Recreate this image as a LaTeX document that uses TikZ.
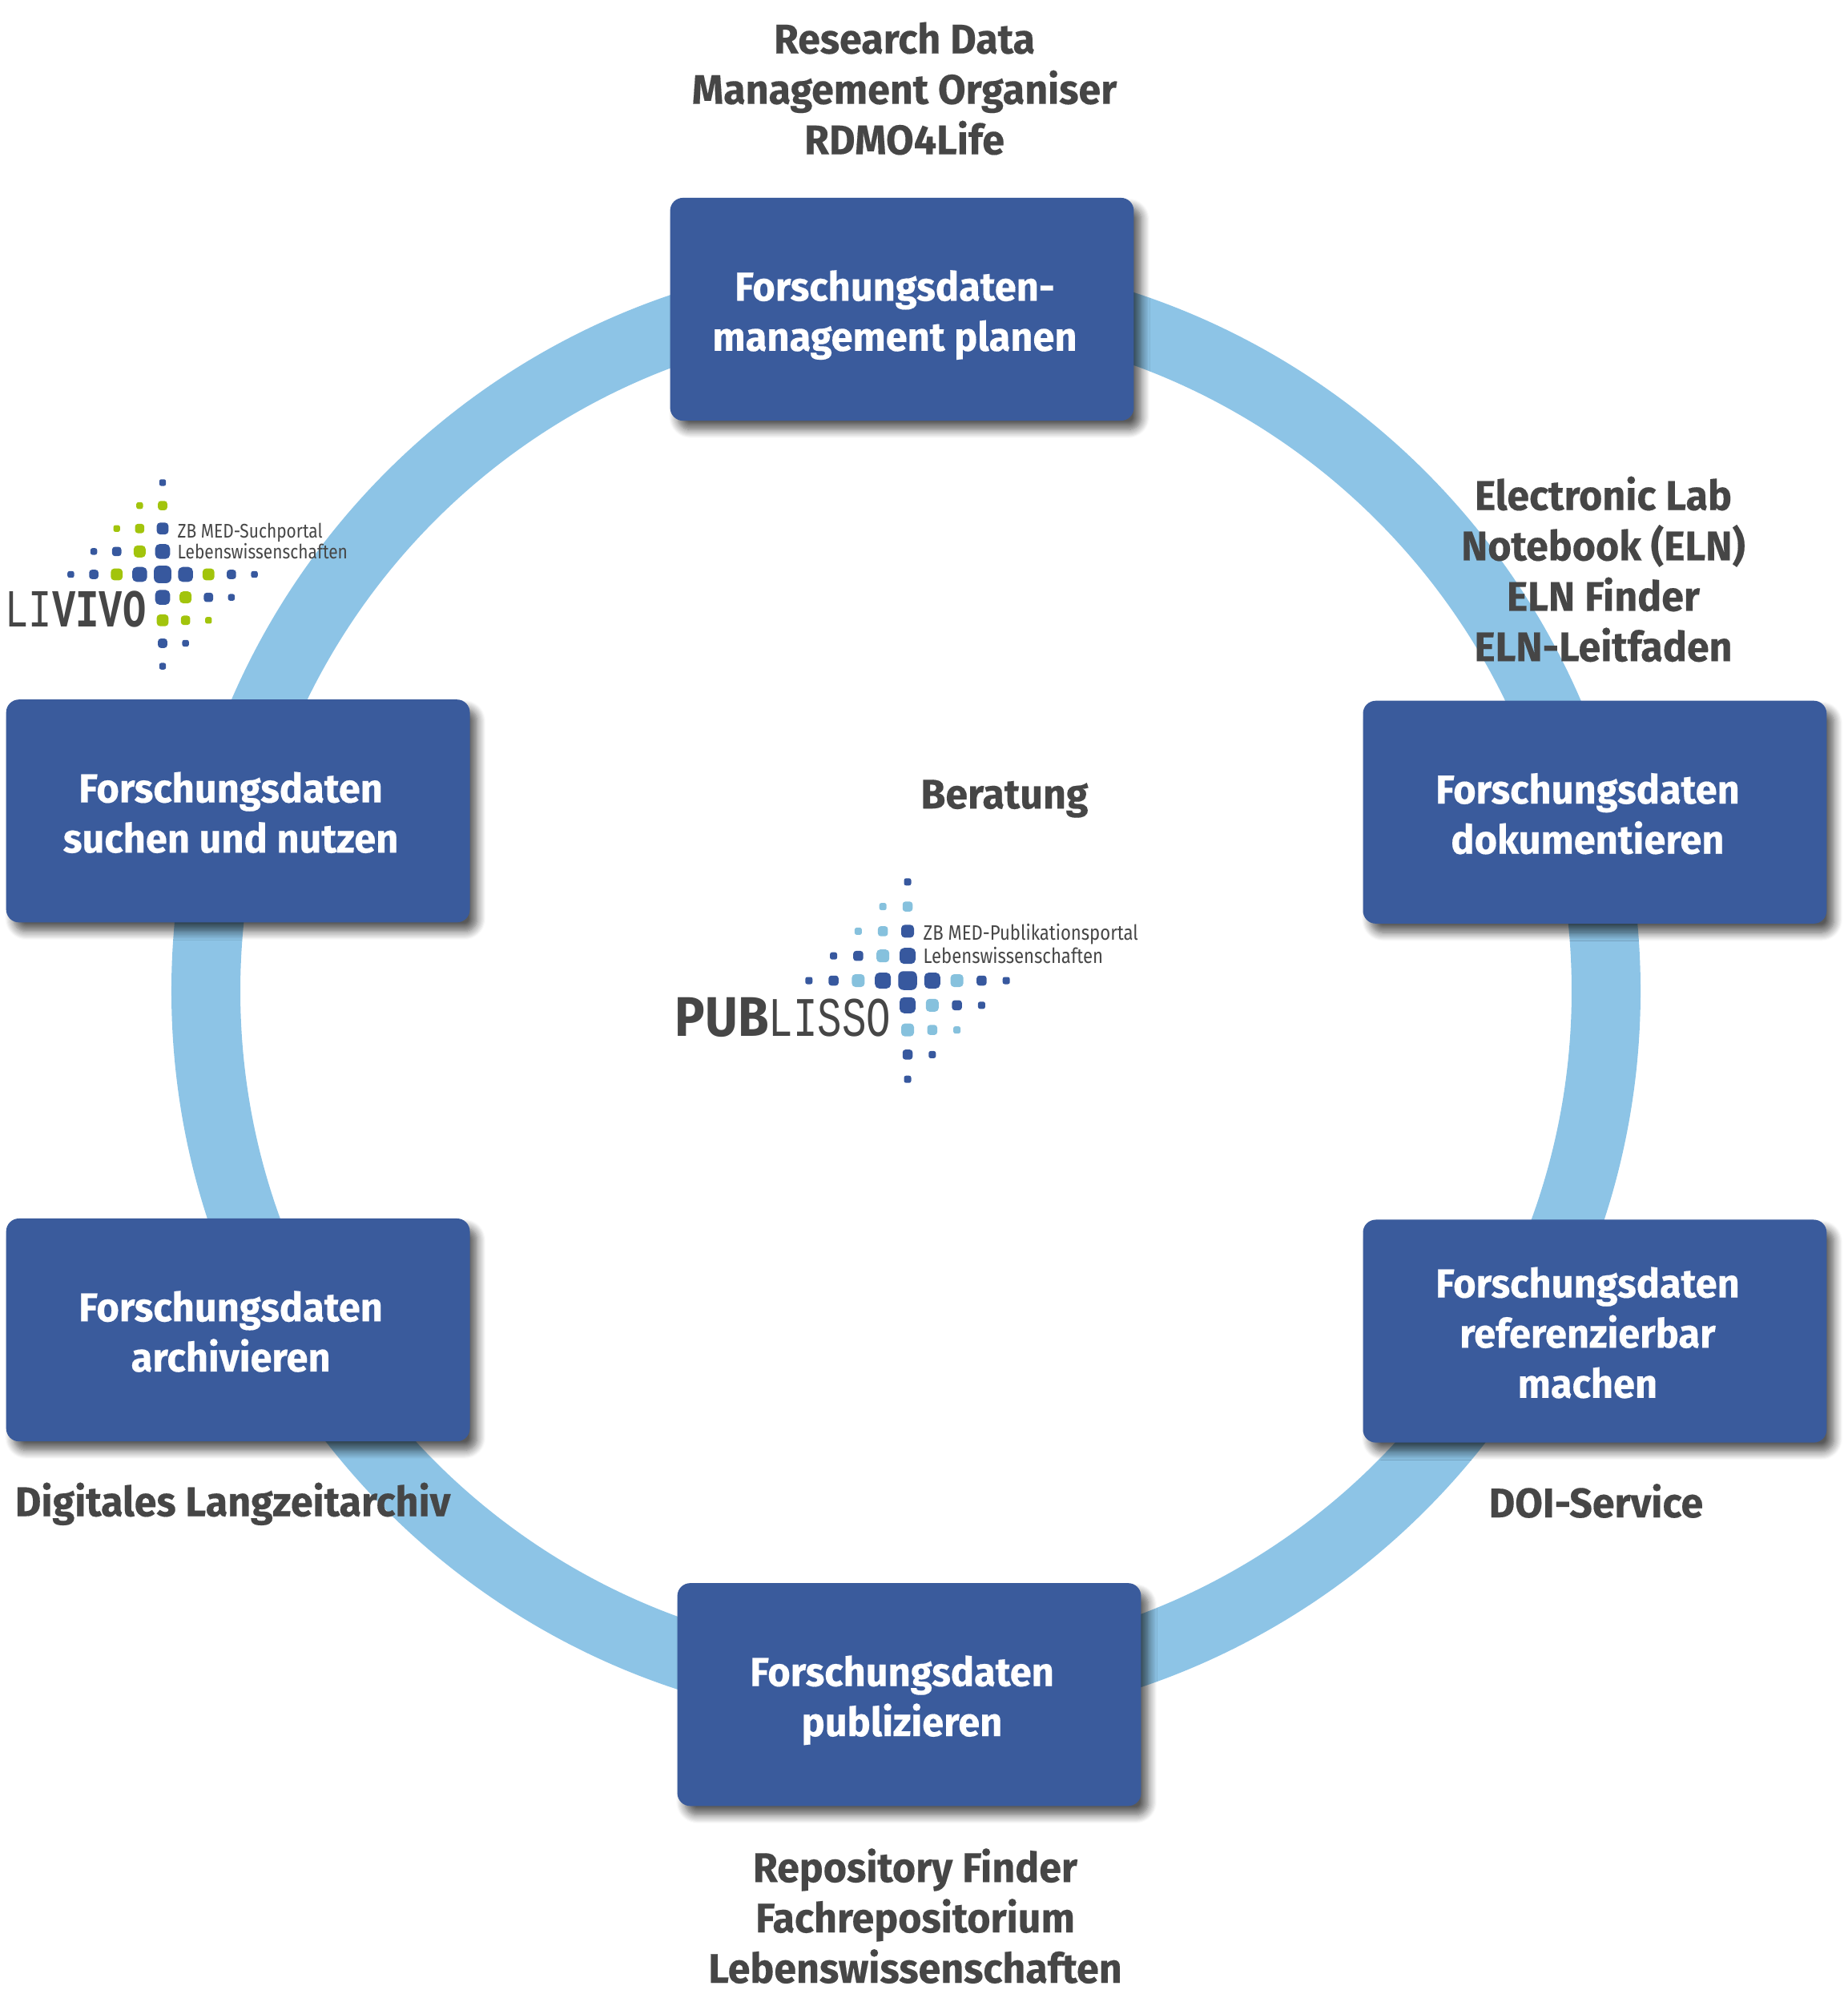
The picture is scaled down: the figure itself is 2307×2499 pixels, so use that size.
\documentclass[tikz,border=0pt]{standalone}
\usepackage{fontspec}
\usepackage{tikz}
\usetikzlibrary{positioning}
\usetikzlibrary{shadows.blur}

\setmainfont{Fira Sans}
\newfontfamily\headfont[FakeStretch=0.97,FakeBold=0.3]{Fira Sans Bold}
\newfontfamily\portalfont[FakeStretch=0.85]{Fira Sans}
\newfontfamily\logobold[FakeStretch=0.9]{Fira Sans Bold}
\newfontfamily\logoslab[FakeStretch=0.73,BoldFont={Liberation Mono Bold}]{Liberation Mono}

\definecolor{boxblue}{HTML}{3A5B9C}
\definecolor{ringblue}{HTML}{8DC4E6}
\definecolor{inkgrey}{HTML}{464646}
\definecolor{dotblue}{HTML}{37589E}
\definecolor{dotlight}{HTML}{86C1DD}
\definecolor{dotgreen}{HTML}{A2C40C}

% dot cross of the two logos: centre, scale, second colour
\newcommand{\dotcross}[3]{
\begin{scope}[shift={#1},scale=#2]
\foreach \col/\row/\size/\tone in {
  0/-4/9/dotblue,
  -1/-3/9/#3, 0/-3/12.5/#3,
  -2/-2/9/#3, -1/-2/12.5/#3, 0/-2/16/dotblue,
  -3/-1/9/dotblue, -2/-1/12.5/dotblue, -1/-1/16/#3, 0/-1/20/dotblue,
  -4/0/9/dotblue, -3/0/12.5/dotblue, -2/0/16/#3, -1/0/20/dotblue, 0/0/23.5/dotblue,
  1/0/20/dotblue, 2/0/16/#3, 3/0/12.5/dotblue, 4/0/9/dotblue,
  0/1/20/dotblue, 1/1/16/#3, 2/1/12.5/dotblue, 3/1/9/dotblue,
  0/2/16/#3, 1/2/12.5/#3, 2/2/9/#3,
  0/3/12.5/dotblue, 1/3/9/dotblue,
  0/4/9/dotblue}
\fill[\tone,rounded corners=\size*0.0028cm]
  ({\col*30.8-\size/2},{\row*30.8-\size/2}) rectangle ++(\size,\size);
\end{scope}
}

% box text sits a little left of and below the box centre
\newcommand{\stagelines}[1]{\kern-0.18cm\raisebox{-5.9pt}[0pt][0pt]{\begin{tabular}{@{}c@{}}#1\end{tabular}}}

\begin{document}
\begin{tikzpicture}[
x=0.01cm, y=-0.01cm,
stage/.style ={rectangle, fill=boxblue, rounded corners=1.6mm,
  text=white, font=\headfont\fontsize{14.3}{17.8}\selectfont,
  inner sep=0pt,
  minimum width=5.785cm, minimum height=2.78cm,
  blur shadow={shadow xshift=2.6pt, shadow yshift=-3.2pt,
    shadow blur steps=10, shadow blur radius=3pt, shadow opacity=65}
},
tool/.style ={text=inkgrey, font=\headfont\fontsize{14.7}{17.9}\selectfont,
  align=center, inner sep=0pt},
portal/.style ={text=inkgrey, font=\portalfont\fontsize{7.4}{8.2}\selectfont,
  anchor=base west, inner sep=0pt},
ringline/.style ={draw=ringblue, line width=86*0.2845pt}
]
\useasboundingbox (0,0) rectangle (2307,2499);

\coordinate (hub) at (1131,1237);
\draw[ringline] (hub) circle (874);

\node[stage] (plan) at (1126,386) {\stagelines{Forschungsdaten-\\management planen}};
\node[stage] (doku) [below right=3.48cm and 2.845cm of plan] {\stagelines{Forschungsdaten\\dokumentieren}};
\node[stage] (refer) [below=3.68cm of doku] {\stagelines{Forschungsdaten\\referenzierbar\\machen}};
\node[stage] (publi) [below left=1.74cm and 2.755cm of refer] {\stagelines{Forschungsdaten\\publizieren}};
\node[stage] (archiv) [above left=1.755cm and 2.575cm of publi] {\stagelines{Forschungsdaten\\archivieren}};
\node[stage] (suchen) [above=3.68cm of archiv] {\stagelines{Forschungsdaten\\suchen und nutzen}};

\node[tool] (rdmo) [above=0.52cm of plan, xshift=0.03cm] {Research Data\\Management Organiser\\RDMO4Life};
\node[tool] (eln) [above=0.47cm of doku, xshift=0.105cm] {Electronic Lab\\Notebook (ELN)\\ELN Finder\\ELN-Leitfaden};
\node[tool] (doi) [below=0.5cm of refer, xshift=0.015cm] {DOI-Service};
\node[tool] (lang) [below=0.5cm of archiv, xshift=-0.065cm] {Digitales Langzeitarchiv};
\node[tool] (repo) [below=0.515cm of publi, xshift=0.075cm] {Repository Finder\\Fachrepositorium\\Lebenswissenschaften};
\node[tool] (rat) at (1254,997) {Beratung};

% PUBLISSO
\dotcross{(1133,1224)}{1}{dotlight}
\node[portal] (pubtop) at (1152,1173) {ZB MED-Publikationsportal};
\node[portal] (pubsub) at (1152,1202) {Lebenswissenschaften};
\node[portal, font=\fontsize{19.8}{20}\selectfont] (pubword) at (842,1293)
  {{\logobold PUB}{\logoslab LISSO}};

% LIVIVO
\dotcross{(203,717)}{0.93}{dotgreen}
\node[portal, font=\portalfont\fontsize{7}{8}\selectfont] (livtop) at (221,671) {ZB MED-Suchportal};
\node[portal, font=\portalfont\fontsize{7}{8}\selectfont] (livsub) at (221,697) {Lebenswissenschaften};
\node[portal, font=\fontsize{19}{20}\selectfont] (livword) at (6,782)
  {{\logoslab LI\bfseries VIVO}};

\end{tikzpicture}
\end{document}
